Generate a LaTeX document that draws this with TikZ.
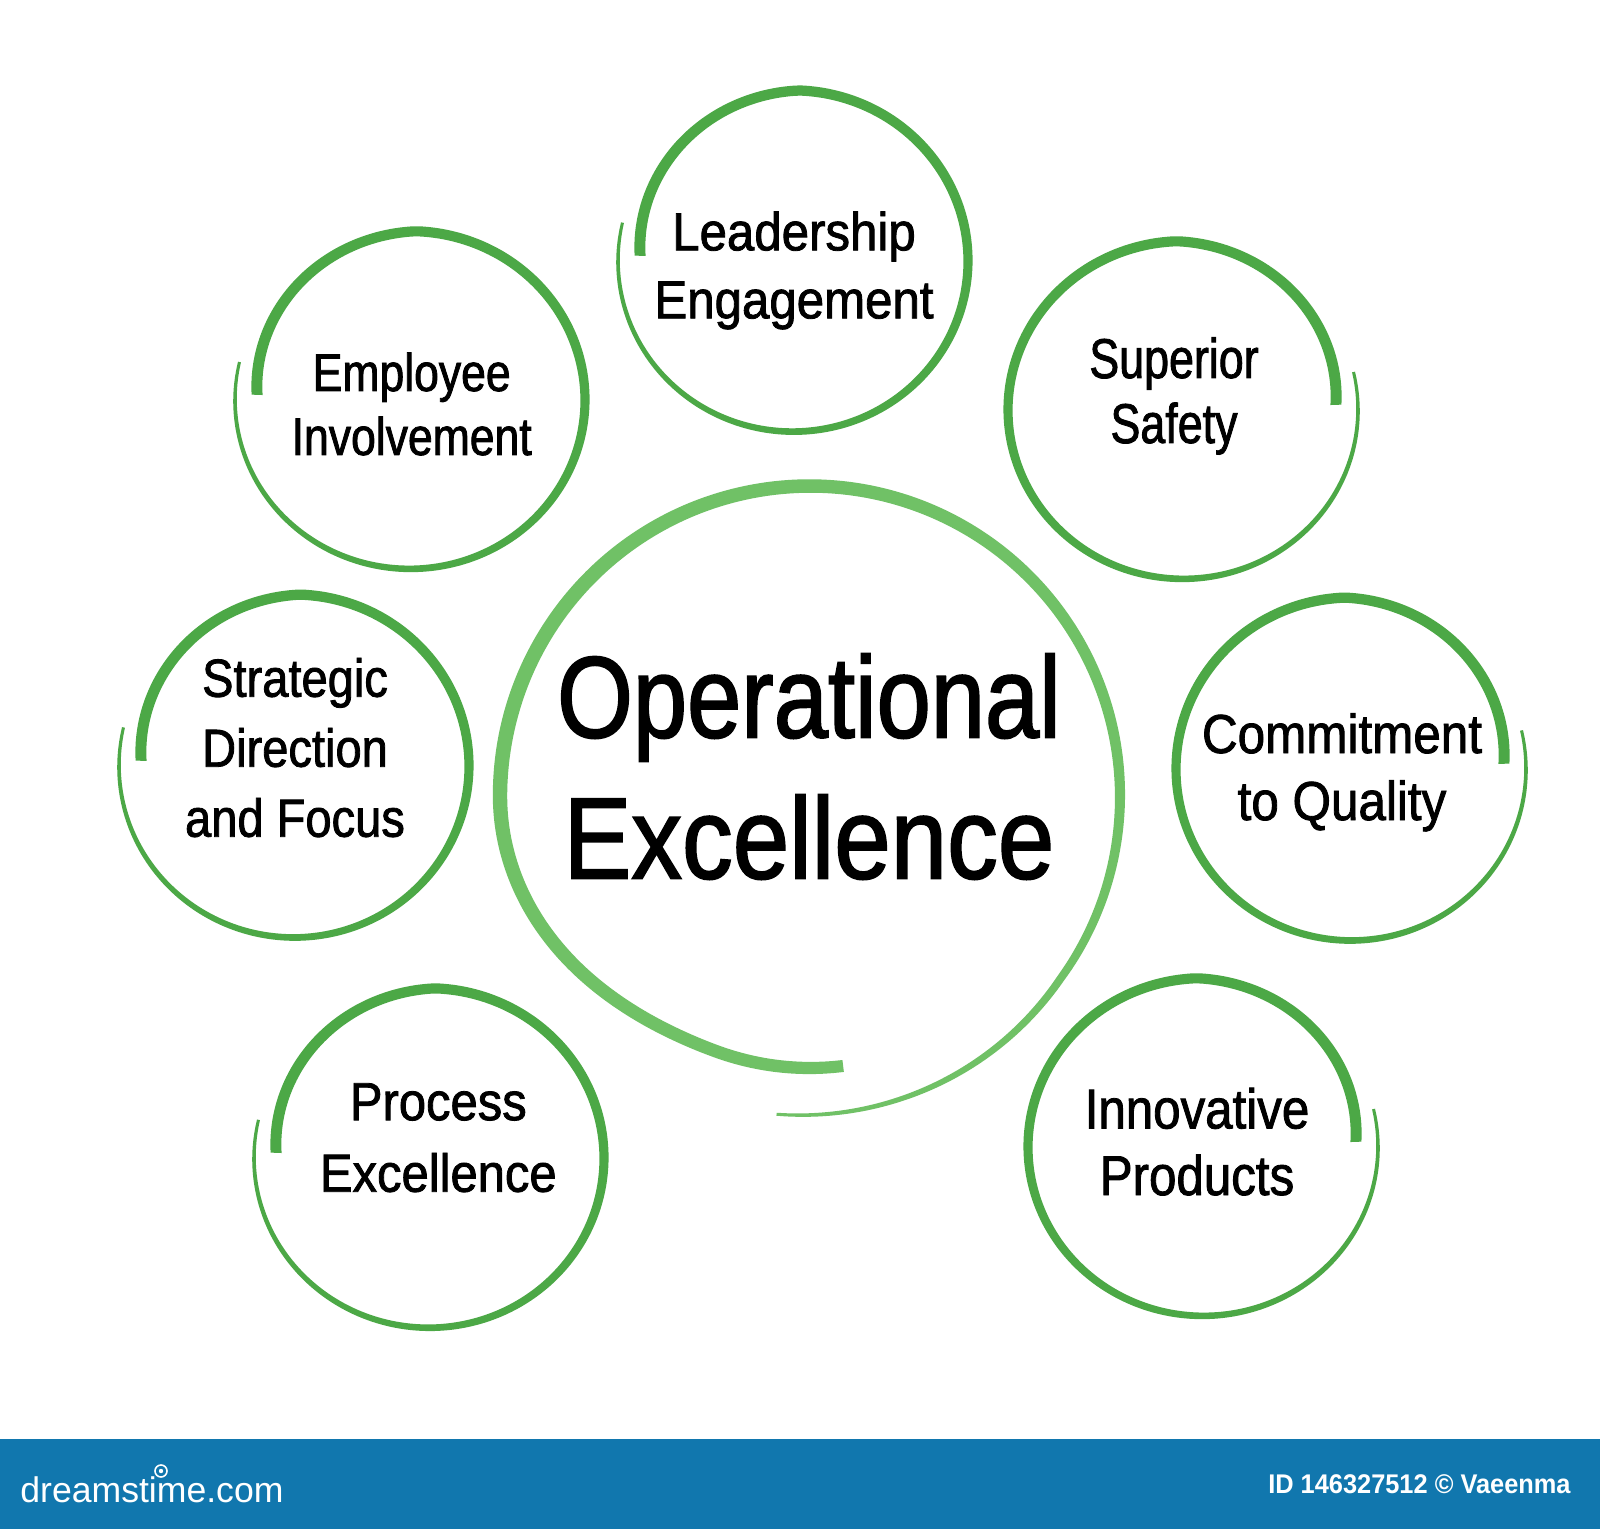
\documentclass[tikz,border=0pt]{standalone}
\usepackage{fontspec}
\setmainfont{Liberation Sans}
\newfontfamily\fLead[FakeStretch=0.92,FakeBold=1.5]{Liberation Sans}
\newfontfamily\fEmp[FakeStretch=0.84,FakeBold=1.5]{Liberation Sans}
\newfontfamily\fSup[FakeStretch=0.80,FakeBold=1.5]{Liberation Sans}
\newfontfamily\fStr[FakeStretch=0.88,FakeBold=1.5]{Liberation Sans}
\newfontfamily\fCom[FakeStretch=0.90,FakeBold=1.5]{Liberation Sans}
\newfontfamily\fPro[FakeStretch=0.915,FakeBold=1.5]{Liberation Sans}
\newfontfamily\fInn[FakeStretch=0.88,FakeBold=1.5]{Liberation Sans}
\newfontfamily\fOpA[FakeStretch=0.84,FakeBold=1.5]{Liberation Sans}
\newfontfamily\fOpB[FakeStretch=0.875,FakeBold=1.5]{Liberation Sans}
\newfontfamily\fId[FakeStretch=0.94]{Liberation Sans}
\newfontfamily\fLogo{Liberation Sans}
\definecolor{gsmall}{RGB}{76,168,70}
\definecolor{gbig}{RGB}{112,193,102}
\definecolor{bannerblue}{RGB}{17,119,174}
% #1 cx, #2 cy, #3 a0, #4 a1, #5 ky, #6 mirror, #7 style
\newcommand\brushring[7]{%
  \fill[#7] plot[domain=#3:#4] ({#1+#6*(rr(\x)+ww(\x)/2)*cos(\x)},{#2+#5*(rr(\x)+ww(\x)/2)*sin(\x)})
    -- plot[domain=#4:#3] ({#1+#6*(rr(\x)-ww(\x)/2)*cos(\x)},{#2+#5*(rr(\x)-ww(\x)/2)*sin(\x)}) -- cycle;}
\tikzset{
  smallring/.style={fill=gsmall, samples=160, smooth, declare function={
      uu(\t)=(\t-182)/371;
      rr(\t)=175-22*max(0,1-(\t-182)/90);
      ww(\t)=3+8*(1-uu(\t)^2);}},
  bigring/.style={fill=gbig, samples=200, smooth, declare function={
      uu(\t)=(\t-83)/373;
      ss(\t)=min(1,max(0,(\t-110)/70));
      rr(\t)=310-38*(0.5+0.5*cos(180*ss(\t)))+10*max(0,(\t-396)/60);
      ww(\t)=3+12*(1-uu(\t)^3)-3*max(0,1-uu(\t)/0.3);}},
  label/.style={align=center, anchor=base, text=black, inner sep=0pt},
}
\begin{document}
\begin{tikzpicture}[x=0.5pt,y=-0.5pt]
\useasboundingbox (0,0) rectangle (1600,1529);
\fill[white] (0,0) rectangle (1600,1529);
% circle centres
\coordinate (cLead) at (793,261);
\coordinate (cEmp) at (410,400);
\coordinate (cSup) at (1183,410);
\coordinate (cStr) at (294,766);
\coordinate (cCom) at (1351,769);
\coordinate (cPro) at (429,1158);
\coordinate (cInn) at (1203,1147);
\coordinate (cOp) at (810,796);
% rings
\brushring{810}{796}{83}{456}{1}{1}{bigring}
\brushring{793}{261}{182}{553}{0.975}{1}{smallring}
\brushring{410}{400}{182}{553}{0.965}{1}{smallring}
\brushring{294}{766}{182}{553}{0.98}{1}{smallring}
\brushring{429}{1158}{182}{553}{0.97}{1}{smallring}
\brushring{1183}{410}{182}{553}{0.965}{-1}{smallring}
\brushring{1351}{769}{182}{553}{0.98}{-1}{smallring}
\brushring{1203}{1147}{182}{553}{0.965}{-1}{smallring}
% labels (anchor = baseline of the last line)
\node[label, font={\fontsize{58pt}{70.5pt}\selectfont}] (op) at (809,878.5) {{\fOpA Operational}\\{\fOpB Excellence}};
\node[label, font={\fontsize{26.75pt}{34pt}\selectfont\fLead}] (lead) at (794,318.3) {Leadership\\Engagement};
\node[label, font={\fontsize{26.5pt}{32pt}\selectfont\fEmp}] (emp) at (411.7,455) {Employee\\Involvement};
\node[label, font={\fontsize{28pt}{32.5pt}\selectfont\fSup}] (sup) at (1174,443) {Superior\\Safety};
\node[label, font={\fontsize{26.75pt}{35pt}\selectfont\fStr}] (str) at (295,836.7) {Strategic\\Direction\\and Focus};
\node[label, font={\fontsize{27.45pt}{33.5pt}\selectfont\fCom}] (com) at (1342,820) {Commitment\\to Quality};
\node[label, font={\fontsize{26.75pt}{35.8pt}\selectfont\fPro}] (pro) at (438.3,1191.7) {Process\\Excellence};
\node[label, font={\fontsize{28pt}{33.3pt}\selectfont\fInn}] (inn) at (1197,1195) {Innovative\\Products};
% banner
\fill[bannerblue] (0,1439) rectangle (1600,1529);
\node[anchor=base west, inner sep=0pt, text=white, font={\fontsize{17.8pt}{20pt}\selectfont\fLogo}] (logo) at (20,1502) {dreamstime.com};
\draw[white, line width=0.8pt] (161,1471) circle (6);
\fill[white] (161,1471) circle (2.2);
\node[anchor=base east, inner sep=0pt, text=white, font={\fontsize{13.5pt}{16pt}\selectfont\fId\bfseries}] (id) at (1571,1493) {ID 146327512 © Vaeenma};
\end{tikzpicture}
\end{document}
